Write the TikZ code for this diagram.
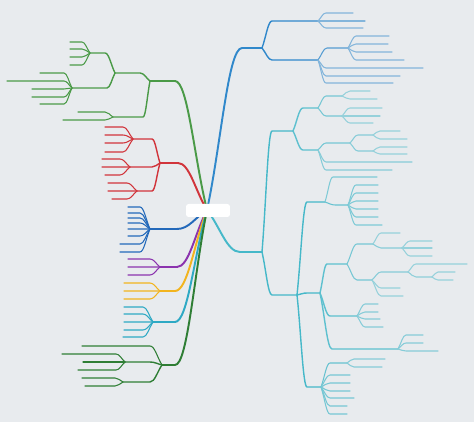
\documentclass[tikz,border=0pt]{standalone}
\usetikzlibrary{calc}
\definecolor{bg}{HTML}{E8EBEE}
\definecolor{grnA}{HTML}{4A9A47}
\definecolor{redA}{HTML}{D1343B}
\definecolor{bluL}{HTML}{2369BA}
\definecolor{purA}{HTML}{8B33AE}
\definecolor{orgA}{HTML}{F2B41E}
\definecolor{cyaL}{HTML}{2EA9C4}
\definecolor{grnB}{HTML}{2F7E35}
\definecolor{bluR}{HTML}{3088CB}
\definecolor{cyaR}{HTML}{45B8C9}
\tikzset{
  tw/.style={to path={.. controls ($(\tikztostart)!0.4!(\tikztostart |- \tikztotarget)+(0.4*#1,0)$) and ($(\tikztostart |- \tikztotarget)+(0.6*#1,0)$) .. ($(\tikztostart |- \tikztotarget)+(#1,0)$) -- (\tikztotarget)}},
  trunk/.style={draw=#1, line width=1.1pt, line cap=round},
  limb/.style={draw=#1, line width=0.8pt, line cap=round},
  twig/.style={draw=#1, line width=0.6pt, line cap=round},
}
\newcommand{\fan}[4]{%
  \foreach \ty/\tx [count=\i] in {#3}{
    \coordinate (#1-\i) at (\tx,\ty);
    \draw[#4] (#1) to[tw=#2] (#1-\i);
  }}
\begin{document}
\begin{tikzpicture}[x=0.02cm,y=-0.02cm]
    \fill[bg] (0,0) rectangle (474,422);
    \useasboundingbox (0,0) rectangle (474,422);
    \coordinate (ctr) at (207,210);

    % right, blue
    \coordinate (b) at (262,48);
    \coordinate (b1) at (318,21);
    \coordinate (b2) at (318,60);
    \coordinate (b2a) at (348,48);
    \draw[trunk=bluR] (ctr) to[tw=35] (b);
    \draw[limb=bluR] (b) to[tw=10] (b1);
    \draw[limb=bluR] (b) to[tw=10] (b2);
    \draw[twig=bluR!80!bg] (b2) to[tw=9] (b2a);
    \fan{b1}{8}{13/353, 21/365, 28/363}{twig=bluR!55!bg}
    \fan{b2a}{8}{36/389, 44/388, 52/392, 60/404}{twig=bluR!55!bg}
    \fan{b2}{8}{68/423, 76/400, 83/393}{twig=bluR!55!bg}

    % right, cyan
    \coordinate (c) at (262,252);
    \coordinate (c1) at (293,131);
    \coordinate (c2) at (297,295);
    \draw[trunk=cyaR] (ctr) to[tw=33] (c);
    \draw[limb=cyaR] (c) to[tw=10] (c1);
    \draw[limb=cyaR] (c) to[tw=10] (c2);

    \coordinate (c1a) at (318,108);
    \coordinate (c1b) at (318,150);
    \coordinate (c1a1) at (342,96);
    \coordinate (c1a2) at (342,116);
    \coordinate (c1b1) at (350,143);
    \coordinate (c1b1a) at (373,135);
    \coordinate (c1b1b) at (373,151);
    \draw[limb=cyaR!85!bg] (c1) to[tw=10] (c1a);
    \draw[limb=cyaR!85!bg] (c1) to[tw=10] (c1b);
    \draw[twig=cyaR!70!bg] (c1a) to[tw=8] (c1a1);
    \draw[twig=cyaR!70!bg] (c1a) to[tw=8] (c1a2);
    \draw[twig=cyaR!70!bg] (c1b) to[tw=8] (c1b1);
    \draw[twig=cyaR!60!bg] (c1b1) to[tw=8] (c1b1a);
    \draw[twig=cyaR!60!bg] (c1b1) to[tw=8] (c1b1b);
    \fan{c1a1}{8}{91/370, 99/377}{twig=cyaR!50!bg}
    \fan{c1a2}{8}{108/382, 116/380, 123/373}{twig=cyaR!50!bg}
    \fan{c1b1a}{7}{131/400, 139/407}{twig=cyaR!50!bg}
    \fan{c1b1b}{7}{147/407, 154/407}{twig=cyaR!50!bg}
    \fan{c1b}{8}{162/412, 170/392}{twig=cyaR!60!bg}

    \coordinate (c2a) at (325,202);
    \coordinate (c2a1) at (348,205);
    \coordinate (c2m) at (320,293);
    \coordinate (c2d) at (321,387);
    \coordinate (c2d1) at (347,363);
    \draw[limb=cyaR] (c2) to[tw=10] (c2a);
    \draw[limb=cyaR] (c2) to[tw=10] (c2m);
    \draw[limb=cyaR] (c2) to[tw=10] (c2d);
    \draw[twig=cyaR!80!bg] (c2a) to[tw=10] (c2a1);
    \fan{c2a}{8}{177/377}{twig=cyaR!65!bg}
    \fan{c2a1}{8}{185/378, 193/378, 201/378, 209/378, 217/378, 225/382}{twig=cyaR!65!bg}

    \coordinate (ca) at (347,264);
    \coordinate (ca1) at (373,244);
    \coordinate (ca1b) at (402,248);
    \coordinate (ca2) at (372,280);
    \coordinate (ca2a) at (408,272);
    \coordinate (ca2b) at (432,277);
    \coordinate (cb) at (357,316);
    \coordinate (cc) at (398,349);
    \draw[limb=cyaR!85!bg] (c2m) to[tw=7] (ca);
    \draw[limb=cyaR!85!bg] (c2m) to[tw=10] (cb);
    \draw[limb=cyaR!85!bg] (c2m) to[tw=12] (cc);
    \draw[twig=cyaR!70!bg] (ca) to[tw=10] (ca1);
    \draw[twig=cyaR!70!bg] (ca) to[tw=10] (ca2);
    \draw[twig=cyaR!60!bg] (ca1) to[tw=8] (ca1b);
    \draw[twig=cyaR!60!bg] (ca2) to[tw=9] (ca2a);
    \draw[twig=cyaR!55!bg] (ca2a) to[tw=8] (ca2b);
    \fan{ca1}{8}{233/400}{twig=cyaR!50!bg}
    \fan{ca1b}{8}{241/432, 248/432, 256/432}{twig=cyaR!50!bg}
    \fan{ca2}{9}{288/400, 296/403}{twig=cyaR!50!bg}
    \fan{ca2a}{8}{264/467}{twig=cyaR!50!bg}
    \fan{ca2b}{6}{272/455, 280/453}{twig=cyaR!50!bg}
    \fan{cb}{8}{304/378, 312/378, 319/380, 327/383}{twig=cyaR!60!bg}
    \fan{cc}{8}{335/423, 343/423, 351/438}{twig=cyaR!60!bg}

    \draw[twig=cyaR!80!bg] (c2d) to[tw=9] (c2d1);
    \fan{c2d1}{7}{359/385, 367/382}{twig=cyaR!60!bg}
    \fan{c2d}{9}{375/350, 383/350, 391/350, 398/354, 406/347, 414/347}{twig=cyaR!70!bg}

    % left, green
    \coordinate (g) at (150,81);
    \coordinate (g1) at (115,73);
    \coordinate (g1a) at (90,53);
    \coordinate (g1b) at (72,88);
    \coordinate (g2) at (113,117);
    \draw[trunk=grnA] (ctr) to[tw=-32] (g);
    \draw[limb=grnA] (g) to[tw=-10] (g1);
    \draw[limb=grnA] (g) to[tw=-7] (g2);
    \draw[limb=grnA] (g1) to[tw=-10] (g1a);
    \draw[limb=grnA] (g1) to[tw=-8] (g1b);
    \fan{g1a}{-8}{42/70, 49/70, 57/70, 65/70}{twig=grnA}
    \fan{g1b}{-8}{73/40, 81/7, 89/32, 97/32, 104/40}{twig=grnA}
    \fan{g2}{-8}{112/78, 120/63}{twig=grnA}

    % left, red
    \coordinate (r) at (160,163);
    \coordinate (r1) at (133,139);
    \coordinate (r2) at (130,167);
    \coordinate (r3) at (137,191);
    \draw[trunk=redA] (ctr) to[tw=-29] (r);
    \draw[limb=redA] (r) to[tw=-8] (r1);
    \draw[limb=redA] (r) to[tw=-8] (r2);
    \draw[limb=redA] (r) to[tw=-8] (r3);
    \fan{r1}{-10}{127/105, 135/105, 143/105, 152/105}{twig=redA}
    \fan{r2}{-10}{159/102, 167/102, 175/105}{twig=redA}
    \fan{r3}{-10}{183/108, 191/108, 199/112}{twig=redA}

    % left, blue / purple / orange / cyan
    \coordinate (bl) at (150,229);
    \coordinate (p) at (160,267);
    \coordinate (o) at (160,291);
    \coordinate (cl) at (153,322);
    \draw[trunk=bluL] (ctr) to[tw=-30] (bl);
    \draw[trunk=purA] (ctr) to[tw=-30] (p);
    \draw[trunk=orgA] (ctr) to[tw=-32] (o);
    \draw[trunk=cyaL] (ctr) to[tw=-32] (cl);
    \fan{bl}{-10}{207/128, 213/128, 218/128, 223/128, 229/128, 236/128, 244/120, 252/120}{twig=bluL}
    \fan{p}{-10}{259/128, 267/128, 275/128}{twig=purA}
    \fan{o}{-10}{283/124, 291/124, 299/124}{twig=orgA}
    \fan{cl}{-10}{307/124, 314/124, 322/124, 330/124, 337/123}{twig=cyaL}

    % left, dark green
    \coordinate (gb) at (162,365);
    \coordinate (gb1) at (125,362);
    \coordinate (gb2) at (123,382);
    \draw[trunk=grnB] (ctr) to[tw=-32] (gb);
    \draw[limb=grnB] (gb) to[tw=-12] (gb1);
    \draw[limb=grnB] (gb) to[tw=-12] (gb2);
    \fan{gb}{-12}{346/82}{twig=grnB}
    \fan{gb1}{-9}{354/62, 362/83, 370/78}{twig=grnB}
    \fan{gb2}{-8}{378/82, 386/85}{twig=grnB}

    \node[fill=white, rounded corners=1.5pt, minimum width=0.88cm, minimum height=0.26cm, inner sep=0pt] (root) at (208,210.5) {};
\end{tikzpicture}
\end{document}
